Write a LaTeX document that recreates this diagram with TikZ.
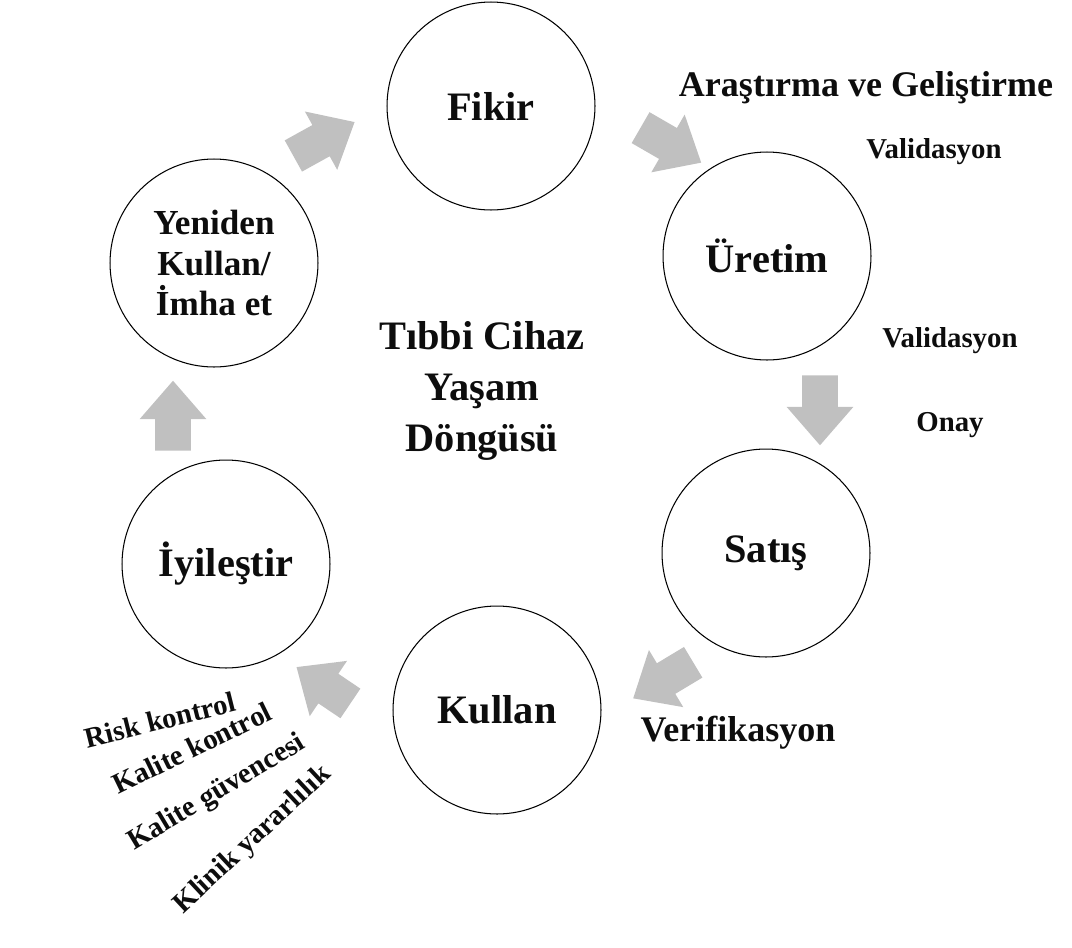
\documentclass[tikz,border=0pt]{standalone}
\usepackage{fontspec}
\setmainfont{Liberation Serif}
\usepackage{tikz}
\usetikzlibrary{shapes.arrows}
\definecolor{arrowgray}{HTML}{C0C0C0}
\definecolor{inkblack}{gray}{0.05}
\tikzset{
  lifenode/.style   = {circle, draw=black, line width=0.6pt, minimum size=4.16cm,
                       inner sep=0pt, align=center, text=inkblack,
                       font=\fontsize{23}{28}\selectfont\bfseries},
  lifenodesm/.style = {lifenode, font=\fontsize{20}{23}\selectfont\bfseries},
  lifearrow/.style  = {single arrow, fill=arrowgray, draw=none, inner xsep=0pt,
                       inner ysep=0.35cm, minimum height=1.4cm,
                       single arrow head extend=0.31cm, single arrow tip angle=82},
  phaselabel/.style = {font=\fontsize{20.5}{24}\selectfont\bfseries, inner sep=0pt,
                       text=inkblack},
  checklabel/.style = {font=\fontsize{16.4}{19}\selectfont\bfseries, inner sep=0pt,
                       text=inkblack},
  titlelabel/.style = {align=center, inner sep=0pt, text=inkblack,
                       font=\fontsize{23}{29}\selectfont\bfseries},
}
\begin{document}
\begin{tikzpicture}[x=0.02cm, y=-0.02cm]
  \useasboundingbox (0,0) rectangle (1072,947);
  \node[lifenode] (fikir) at (491,106) {Fikir};
  \node[lifenode] (uretim) at (767,256) {Üretim};
  \node[lifenode] (satis) at (766,553) {Satış};
  \node[lifenode] (kullan) at (497,710) {Kullan};
  \node[lifenode] (iyiles) at (226,564) {İyileştir};
  \node[lifenodesm] (yeniden) at (214,263) {Yeniden\\Kullan/\\İmha et};
  \node[titlelabel] (baslik) at (482,391) {Tıbbi Cihaz\\Yaşam\\Döngüsü};
  \node[lifearrow, rotate=29] (a1) at (315,144) {};
  \node[lifearrow, rotate=-30] (a2) at (662,140) {};
  \node[lifearrow, rotate=-90] (a3) at (820,400) {};
  \node[lifearrow, rotate=211] (a4) at (672,675) {};
  \node[lifearrow, rotate=146, minimum height=1.3cm] (a5) at (332,691) {};
  \node[lifearrow, rotate=90] (a6) at (173,426) {};
  \node[phaselabel] (arge) at (866,88) {Araştırma ve Geliştirme};
  \node[checklabel] (val1) at (934,152) {Validasyon};
  \node[checklabel] (val2) at (950,341) {Validasyon};
  \node[checklabel] (onay) at (950,425) {Onay};
  \node[phaselabel] (verif) at (738,733) {Verifikasyon};
  \node[checklabel, rotate=14] (risk) at (160,720) {Risk kontrol};
  \node[checklabel, rotate=26] (kkont) at (192,748) {Kalite kontrol};
  \node[checklabel, rotate=31] (kguv) at (217,793) {Kalite güvencesi};
  \node[checklabel, rotate=43] (klinik) at (253,840) {Klinik yararlılık};
\end{tikzpicture}
\end{document}
